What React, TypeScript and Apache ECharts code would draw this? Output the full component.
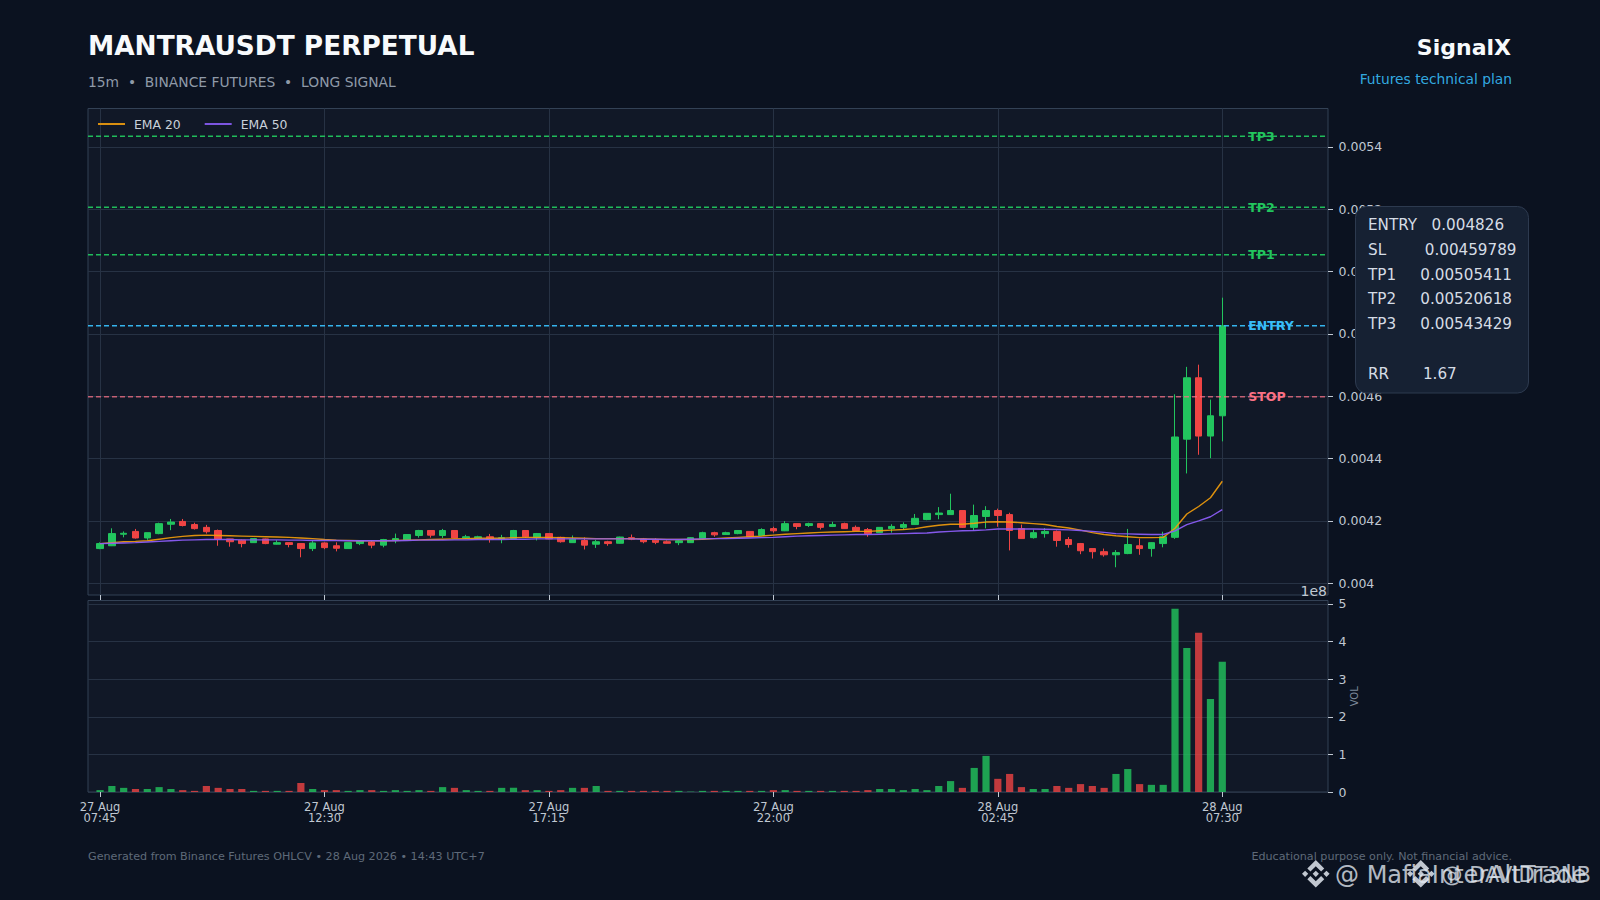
import React, { useEffect, useRef } from "react";
import * as echarts from "echarts";

const FONT = '"DejaVu Sans"';

// Prices below are in millionths of USDT
const opens = [4111,4120,4157,4166,4145,4159,4189,4198,4188,4179,4169,4142,4138,4130,4142,4125,4130,4127,4111,4129,4120,4111,4127,4132,4122,4137,4139,4153,4169,4153,4169,4145,4145,4149,4142,4143,4169,4146,4159,4147,4130,4137,4125,4133,4128,4146,4142,4138,4133,4130,4130,4143,4162,4156,4159,4166,4153,4175,4168,4191,4185,4191,4182,4191,4179,4172,4162,4175,4179,4188,4204,4220,4220,4233,4179,4214,4233,4220,4175,4146,4159,4166,4140,4127,4111,4101,4091,4095,4120,4111,4127,4147,4462,4659,4472,4537];
const closes = [4127,4159,4160,4145,4162,4191,4196,4185,4175,4165,4141,4133,4127,4143,4127,4130,4124,4111,4129,4114,4112,4130,4136,4122,4140,4143,4156,4169,4154,4169,4145,4149,4149,4140,4146,4169,4149,4159,4142,4133,4141,4122,4133,4127,4148,4141,4133,4131,4128,4136,4146,4162,4155,4162,4169,4149,4172,4168,4191,4182,4191,4179,4188,4175,4169,4159,4179,4182,4188,4208,4224,4225,4233,4179,4217,4233,4217,4169,4143,4162,4166,4137,4124,4104,4101,4091,4098,4124,4111,4130,4149,4469,4659,4472,4537,4826];
const highs = [4131,4176,4166,4174,4162,4194,4206,4206,4194,4187,4172,4142,4140,4143,4143,4138,4130,4128,4136,4131,4131,4130,4136,4136,4142,4159,4157,4171,4170,4174,4169,4155,4152,4158,4155,4171,4169,4161,4159,4149,4153,4147,4139,4136,4149,4156,4145,4144,4137,4138,4148,4165,4165,4165,4169,4166,4176,4181,4199,4191,4194,4191,4197,4194,4185,4177,4179,4189,4195,4222,4224,4244,4287,4234,4252,4247,4239,4226,4188,4172,4177,4169,4148,4129,4111,4111,4106,4174,4143,4131,4165,4606,4694,4701,4589,4916];
const lows = [4109,4119,4147,4143,4139,4157,4170,4182,4172,4159,4120,4117,4115,4129,4125,4124,4115,4083,4103,4109,4102,4111,4122,4112,4115,4128,4137,4146,4146,4145,4144,4143,4143,4130,4128,4142,4145,4137,4141,4130,4129,4108,4113,4120,4127,4138,4128,4125,4127,4122,4129,4142,4149,4155,4157,4148,4151,4162,4167,4173,4180,4172,4180,4174,4168,4149,4161,4162,4172,4187,4202,4205,4219,4177,4168,4176,4181,4105,4142,4143,4146,4117,4114,4093,4079,4085,4051,4093,4091,4085,4115,4142,4352,4412,4401,4455];
const ema20 = [4127,4130,4133,4134,4136,4141,4146,4150,4153,4154,4153,4152,4151,4150,4149,4148,4147,4145,4143,4140,4138,4137,4136,4136,4136,4137,4138,4139,4140,4141,4142,4143,4144,4144,4144,4146,4147,4147,4147,4146,4145,4144,4143,4143,4143,4143,4142,4141,4140,4140,4140,4141,4143,4145,4147,4149,4151,4154,4157,4159,4161,4163,4164,4165,4166,4166,4168,4170,4172,4175,4181,4186,4189,4189,4192,4196,4197,4196,4194,4191,4188,4182,4177,4170,4162,4156,4152,4149,4146,4146,4147,4176,4222,4246,4274,4327];
const ema50 = [4127,4128,4129,4130,4132,4134,4136,4138,4139,4140,4140,4140,4139,4139,4139,4139,4138,4138,4137,4137,4137,4136,4136,4136,4136,4136,4137,4138,4138,4138,4139,4139,4140,4140,4140,4141,4141,4142,4142,4142,4142,4142,4142,4142,4142,4142,4141,4141,4140,4140,4141,4142,4143,4143,4144,4145,4146,4147,4149,4151,4152,4153,4154,4155,4156,4156,4157,4158,4159,4160,4161,4164,4166,4168,4169,4171,4174,4174,4174,4174,4173,4172,4171,4169,4166,4163,4159,4158,4157,4156,4156,4168,4188,4200,4213,4236];
// Volumes in units of 1e8
const volumes = [0.05,0.16,0.11,0.08,0.08,0.13,0.08,0.05,0.03,0.16,0.11,0.08,0.08,0.03,0.03,0.03,0.03,0.24,0.08,0.05,0.05,0.03,0.05,0.05,0.03,0.05,0.03,0.05,0.03,0.13,0.11,0.05,0.03,0.03,0.11,0.11,0.05,0.05,0.03,0.05,0.11,0.11,0.16,0.03,0.03,0.03,0.03,0.03,0.03,0.03,0.01,0.03,0.03,0.03,0.03,0.03,0.03,0.05,0.05,0.03,0.03,0.03,0.03,0.03,0.03,0.05,0.08,0.08,0.05,0.08,0.05,0.16,0.29,0.11,0.64,0.96,0.35,0.48,0.13,0.08,0.08,0.16,0.11,0.21,0.16,0.11,0.48,0.61,0.21,0.19,0.19,4.87,3.83,4.23,2.47,3.46];

const tickIndexes = [0, 19, 38, 57, 76, 95];
const tickLabels = ["27 Aug\n07:45", "27 Aug\n12:30", "27 Aug\n17:15", "27 Aug\n22:00", "28 Aug\n02:45", "28 Aug\n07:30"];
const priceTicks = [0.004, 0.0042, 0.0044, 0.0046, 0.0048, 0.005, 0.0052, 0.0054];
const volumeTicks = [0, 1, 2, 3, 4, 5];

const levelNames = ["TP3", "TP2", "TP1", "ENTRY", "STOP"];
const levelValues = [0.00543429, 0.00520618, 0.00505411, 0.004826, 0.00459789];
const levelColors = ["#22c55e", "#22c55e", "#22c55e", "#38bdf8", "#fb7185"];
const levelOpacity = [0.95, 0.95, 0.95, 0.95, 0.75];
const levelLabelIndex = 97.2;

const planLines = [
  "ENTRY   0.004826",
  "SL        0.00459789",
  "TP1     0.00505411",
  "TP2     0.00520618",
  "TP3     0.00543429",
  "",
  "RR       1.67",
];

const BG = "#0b1220";
const PANEL = "#111827";
const GRID = "#273244";
const SPINE = "#334155";
const LABEL = "#c0c8d2";
const UP = "#22c55e";
const DOWN = "#ef4444";
const BINANCE =
  "M16.624 13.9202l2.7175 2.7154-7.353 7.353-7.353-7.352 2.7175-2.7164 4.6355 4.6595 4.6356-4.6595zm4.6366-4.6366L24 12l-2.7154 2.7164L18.5682 12l2.6924-2.7164zm-9.272.001l2.7163 2.6914-2.7164 2.7174v-.001L9.2721 12l2.7164-2.7154zm-9.2722-.001L5.4088 12l-2.6914 2.6924L0 12l2.7164-2.7164zM11.9885.0115l7.353 7.329-2.7174 2.7154-4.6356-4.6356-4.6355 4.6595-2.7174-2.7154 7.353-7.353z";

const X_MIN = -1.02;
const X_MAX = 103.95;

function txt(x: number, y: number, text: string, font: string, fill: string, textAlign = "left", extra: any = {}) {
  return {
    type: "text",
    x,
    y,
    z: 60,
    silent: true,
    style: { text, font, fill, textAlign, textVerticalAlign: "middle", ...extra },
  };
}

export default function App() {
  const ref = useRef<HTMLDivElement>(null);
  useEffect(() => {
    document.body.style.margin = "0";
    document.body.style.background = BG;
    echarts.graphic.registerShape("binanceLogo", echarts.graphic.extendPath(BINANCE, {}) as any);
    const chart = echarts.init(ref.current!, undefined, { renderer: "svg" });

    const m = (a: number) => a / 1e6;
    const xAxisCommon = {
      type: "value",
      min: X_MIN,
      max: X_MAX,
      axisLine: { show: false, onZero: false },
      axisTick: { show: true, length: 5, customValues: tickIndexes, lineStyle: { color: LABEL, width: 1 } },
    };

    chart.setOption({
      animation: false,
      backgroundColor: BG,
      textStyle: { fontFamily: FONT },
      legend: {
        left: 93,
        top: 113,
        itemWidth: 27,
        itemHeight: 2,
        itemGap: 24,
        data: [
          { name: "EMA 20", icon: "rect", itemStyle: { color: "#d98f10" } },
          { name: "EMA 50", icon: "rect", itemStyle: { color: "#7c55e0" } },
        ],
        textStyle: { color: "#c8d0da", fontSize: 12.4, fontFamily: FONT, padding: [0, 0, 0, 4] },
      },
      grid: [
        { left: 88, right: 272, top: 108.5, height: 486.5, show: true, backgroundColor: PANEL, borderColor: SPINE, borderWidth: 1 },
        { left: 88, right: 272, top: 600.5, height: 191.5, show: true, backgroundColor: PANEL, borderColor: SPINE, borderWidth: 1 },
      ],
      xAxis: [
        {
          ...xAxisCommon,
          gridIndex: 0,
          axisLabel: { show: false },
          splitLine: { show: true, lineStyle: { color: GRID, width: 1 } },
        },
        {
          ...xAxisCommon,
          gridIndex: 1,
          axisLabel: {
            customValues: tickIndexes,
            margin: 9,
            fontSize: 11.5,
            lineHeight: 11.6,
            color: LABEL,
            fontFamily: FONT,
            hideOverlap: false,
            formatter: (v: number) => tickLabels[tickIndexes.indexOf(v)] ?? "",
          },
          splitLine: { show: false },
        },
      ],
      yAxis: [
        {
          type: "value",
          gridIndex: 0,
          position: "right",
          min: 0.003962,
          max: 0.005523,
          axisLine: { show: false, onZero: false },
          axisTick: { show: true, length: 5, customValues: priceTicks, lineStyle: { color: LABEL } },
          axisLabel: {
            customValues: priceTicks,
            margin: 10.5,
            fontSize: 12.5,
            padding: [3, 0, 0, 0],
            color: LABEL,
            fontFamily: FONT,
            formatter: (v: number) => String(v),
          },
          splitLine: { show: true, lineStyle: { color: GRID, width: 1 } },
        },
        {
          type: "value",
          gridIndex: 1,
          position: "right",
          min: 0,
          max: 5.09,
          name: "VOL",
          nameLocation: "middle",
          nameRotate: 90,
          nameGap: 21,
          nameMoveOverlap: false,
          nameTextStyle: { color: "#7c8899", fontSize: 10, fontFamily: FONT },
          axisLine: { show: false, onZero: false },
          axisTick: { show: true, length: 5, customValues: volumeTicks, lineStyle: { color: LABEL } },
          axisLabel: {
            customValues: volumeTicks,
            margin: 10.5,
            fontSize: 12.5,
            color: LABEL,
            fontFamily: FONT,
            formatter: (v: number) => String(v),
          },
          splitLine: { show: true, lineStyle: { color: GRID, width: 1 } },
        },
      ],
      series: [
        ...levelValues.map((v, i) => ({
          type: "line",
          name: levelNames[i] + " level",
          xAxisIndex: 0,
          yAxisIndex: 0,
          symbol: "none",
          z: 3,
          silent: true,
          lineStyle: { color: levelColors[i], width: 1.5, type: [5, 3], opacity: levelOpacity[i] },
          data: [
            [X_MIN, v],
            [X_MAX, v],
          ],
        })),
        {
          type: "candlestick",
          name: "OHLC",
          xAxisIndex: 0,
          yAxisIndex: 0,
          barWidth: 7,
          encode: { x: 0, y: [1, 2, 3, 4] },
          itemStyle: { color: UP, color0: DOWN, borderColor: UP, borderColor0: DOWN, borderWidth: 1 },
          data: opens.map((o, k) => [k, m(o), m(closes[k]), m(lows[k]), m(highs[k])]),
        },
        {
          type: "line",
          name: "EMA 20",
          xAxisIndex: 0,
          yAxisIndex: 0,
          symbol: "none",
          z: 4,
          lineStyle: { color: "#f59e0b", width: 1.4, opacity: 0.9 },
          itemStyle: { color: "#f59e0b" },
          data: ema20.map((v, k) => [k, m(v)]),
        },
        {
          type: "line",
          name: "EMA 50",
          xAxisIndex: 0,
          yAxisIndex: 0,
          symbol: "none",
          z: 4,
          lineStyle: { color: "#8b5cf6", width: 1.4, opacity: 0.95 },
          itemStyle: { color: "#8b5cf6" },
          data: ema50.map((v, k) => [k, m(v)]),
        },
        {
          type: "scatter",
          name: "Levels",
          xAxisIndex: 0,
          yAxisIndex: 0,
          symbolSize: 0,
          z: 6,
          itemStyle: { opacity: 1 },
          data: levelValues.map((v, i) => ({
            value: [levelLabelIndex, v],
            name: levelNames[i],
            label: { color: levelColors[i] },
          })),
          label: {
            show: true,
            position: "right",
            distance: 0,
            fontSize: 12.5,
            fontWeight: "bold",
            fontFamily: FONT,
            formatter: (p: any) => p.name,
          },
        },
        {
          type: "bar",
          name: "Volume",
          xAxisIndex: 1,
          yAxisIndex: 1,
          barWidth: 7.2,
          data: volumes.map((v, k) => ({
            value: [k, v],
            itemStyle: { color: closes[k] >= opens[k] ? UP : DOWN, opacity: 0.8 },
          })),
        },
      ],
      graphic: {
        elements: [
          txt(88, 46, "MANTRAUSDT PERPETUAL", `bold 26.35px ${FONT}`, "#f8fafc"),
          txt(88, 81.5, "15m  •  BINANCE FUTURES  •  LONG SIGNAL", `13.85px ${FONT}`, "#8f9aa8"),
          txt(1511, 47, "SignalX", `bold 22px ${FONT}`, "#f8fafc", "right"),
          txt(1512, 78.5, "Futures technical plan", `13.8px ${FONT}`, "#38bdf8", "right", { opacity: 0.9 }),
          txt(1327, 591, "1e8", `14px ${FONT}`, LABEL, "right"),
          txt(88, 856, "Generated from Binance Futures OHLCV • 28 Aug 2026 • 14:43 UTC+7", `11.15px ${FONT}`, "#5f6a79"),
          txt(1512, 856, "Educational purpose only. Not financial advice.", `11.15px ${FONT}`, "#5f6a79", "right"),
          {
            type: "rect",
            z: 70,
            silent: true,
            shape: { x: 1355.5, y: 206.5, width: 173, height: 186.5, r: 11 },
            style: { fill: "#162133", stroke: "#2d3a4f", lineWidth: 1 },
          },
          {
            type: "text",
            x: 1368,
            y: 213,
            z: 71,
            silent: true,
            style: { text: planLines.join("\n"), font: `15.2px ${FONT}`, fill: "#d5dce5", lineHeight: 24.7 },
          },
          {
            type: "binanceLogo",
            x: 1302,
            y: 860,
            scaleX: 1.15,
            scaleY: 1.15,
            z: 72,
            silent: true,
            style: { fill: "#e2e8f0", opacity: 0.85 },
          },
          txt(1335, 874.5, "@ MafiaInterAltTrade", `24px ${FONT}`, "#e2e8f0", "left", { opacity: 0.8 }),
          {
            type: "binanceLogo",
            x: 1407,
            y: 860,
            scaleX: 1.15,
            scaleY: 1.15,
            z: 72,
            silent: true,
            style: { fill: "#e2e8f0", opacity: 0.85 },
          },
          txt(1591, 874.5, "@ DAVIDT3NB", `21px ${FONT}`, "#e2e8f0", "right", { opacity: 0.8 }),
        ],
      },
    });
    return () => chart.dispose();
  }, []);
  return <div ref={ref} style={{ position: "absolute", left: 0, top: 0, width: 1600, height: 900 }} />;
}
